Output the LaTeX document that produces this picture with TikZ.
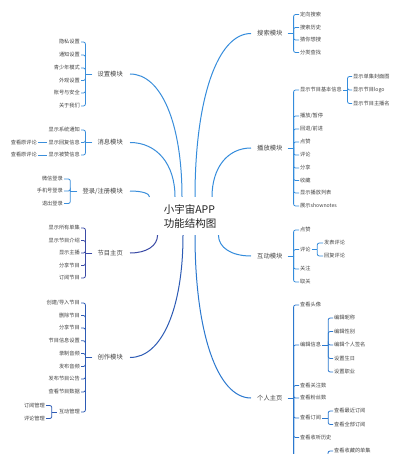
\documentclass[tikz,border=0pt]{standalone}
\usepackage{fontspec}
\setmainfont{Noto Sans CJK SC}
\usetikzlibrary{calc}
\definecolor{txt}{HTML}{444444}
\definecolor{ctr}{HTML}{222222}
\definecolor{cL}{HTML}{3A8EDB}
\definecolor{cR}{HTML}{348CDC}
\definecolor{cHome}{HTML}{2B78CF}
\definecolor{cProg}{HTML}{3B4BA6}
\definecolor{cMake}{HTML}{2D5BB5}
\newcommand\leaffont{\fontsize{5.2}{6}\selectfont}
\newcommand\modfont{\fontsize{6.3}{7.5}\selectfont}
\newcommand\cenfont{\fontsize{10.5}{14}\selectfont}
\newcommand\mcurve[3]{%
  \coordinate (tmpA) at ($(#2)!0.6!(#3)$);
  \coordinate (tmpB) at ($(#2)!0.4!(#3)$);
  \draw[link,#1] (#2) .. controls (#2 |- tmpA) and (tmpB |- #3) .. (#3);}
\tikzset{
  leafL/.style={anchor=east,inner sep=1pt,font=\leaffont,text=txt},
  leafR/.style={anchor=west,inner sep=1pt,font=\leaffont,text=txt},
  modL/.style={anchor=east,inner sep=3pt,font=\modfont,text=txt},
  modR/.style={anchor=west,inner sep=3pt,font=\modfont,text=txt},
  link/.style={line width=1pt},
  br/.style={line width=0.8pt,rounded corners=2pt},
}
\begin{document}
\begin{tikzpicture}[x=1pt,y=-1pt]
\useasboundingbox (0,0) rectangle (400,454);
\clip (0,0) rectangle (400,454);
\fill[white] (0,0) rectangle (400,454);

% center
\node[align=left,font=\cenfont,inner sep=7pt,text=ctr] (c) at (190,216) {小宇宙APP\\功能结构图};

% modules
\node[modL] (set) at (126,74) {设置模块};
\node[modL] (msg) at (126,142.5) {消息模块};
\node[modL] (login) at (126,191) {登录/注册模块};
\node[modL] (prog) at (126,253) {节目主页};
\node[modL] (make) at (126,357.5) {创作模块};
\node[modR] (search) at (254,33.5) {搜索模块};
\node[modR] (play) at (254,148) {播放模块};
\node[modR] (inter) at (254,256) {互动模块};
\node[modR] (home) at (254,398) {个人主页};

% curve ends
\coordinate (sSet) at ([xshift=-8pt]c.north);
\coordinate (sSearch) at ([xshift=5pt]c.north);
\coordinate (sMsg) at ([xshift=-15pt]c.north);
\coordinate (sPlay) at ([xshift=22pt]c.north);
\coordinate (sLogin) at ([xshift=-7pt]c.north west);
\coordinate (sProg) at ([xshift=1pt]c.south west);
\coordinate (sMake) at ([xshift=-7pt]c.south);
\coordinate (sHome) at ([xshift=5pt]c.south);
\coordinate (sInter) at ([xshift=-5pt]c.south east);
\coordinate (eSet) at ([xshift=4pt]set.east);
\coordinate (eMsg) at ([xshift=4pt]msg.east);
\coordinate (eLogin) at ([xshift=4pt]login.east);
\coordinate (eProg) at ([xshift=4pt]prog.east);
\coordinate (eMake) at ([xshift=4pt]make.east);
\coordinate (eSearch) at ([xshift=-3pt]search.west);
\coordinate (ePlay) at ([xshift=-3pt]play.west);
\coordinate (eInter) at ([xshift=-3pt]inter.west);
\coordinate (eHome) at ([xshift=-3pt]home.west);
\mcurve{cL}{sSet}{eSet}
\mcurve{cL}{sMsg}{eMsg}
\mcurve{cL}{sLogin}{eLogin}
\mcurve{cProg}{sProg}{eProg}
\mcurve{cMake}{sMake}{eMake}
\mcurve{cR}{sSearch}{eSearch}
\mcurve{cR}{sPlay}{ePlay}
\mcurve{cR}{sInter}{eInter}
\mcurve{cHome}{sHome}{eHome}

% ---------- settings
\node[leafL] (l1) at (81,42) {隐私设置};
\node[leafL] (l2) at (81,55) {通知设置};
\node[leafL] (l3) at (81,68) {青少年模式};
\node[leafL] (l4) at (81,80.5) {外观设置};
\node[leafL] (l5) at (81,93) {账号与安全};
\node[leafL] (l6) at (81,106) {关于我们};
\coordinate (bSet) at ([xshift=-9pt]set.west);
\draw[br,cL] ([xshift=-2pt]set.west) -- (bSet);
\foreach \n in {l1,l2,l3,l4,l5,l6} \draw[br,cL] (bSet) |- (\n.east);

% ---------- messages
\node[leafL] (m1) at (81,130) {显示系统通知};
\node[leafL] (m2) at (81,142.5) {显示回复信息};
\node[leafL] (m3) at (81,155) {显示被赞信息};
\node[leafL] (m2x) at (38,142.5) {查看原评论};
\node[leafL] (m3x) at (38,155) {查看原评论};
\coordinate (bMsg) at ([xshift=-9pt]msg.west);
\draw[br,cL] ([xshift=-2pt]msg.west) -- (bMsg);
\foreach \n in {m1,m2,m3} \draw[br,cL] (bMsg) |- (\n.east);
\draw[br,cL] (m2x.east) -- (m2.west);
\draw[br,cL] (m3x.east) -- (m3.west);

% ---------- login
\node[leafL] (g1) at (64,179) {微信登录};
\node[leafL] (g2) at (64,191) {手机号登录};
\node[leafL] (g3) at (64,203.5) {退出登录};
\coordinate (bLogin) at ([xshift=-9pt]login.west);
\draw[br,cL] ([xshift=-2pt]login.west) -- (bLogin);
\foreach \n in {g1,g2,g3} \draw[br,cL] (bLogin) |- (\n.east);

% ---------- program home
\node[leafL] (p1) at (81,228) {显示所有单集};
\node[leafL] (p2) at (81,240.5) {显示节目介绍};
\node[leafL] (p3) at (81,253) {显示主播};
\node[leafL] (p4) at (81,265.5) {分享节目};
\node[leafL] (p5) at (81,278) {订阅节目};
\coordinate (bProg) at ([xshift=-9pt]prog.west);
\draw[br,cProg] ([xshift=-2pt]prog.west) -- (bProg);
\foreach \n in {p1,p2,p3,p4,p5} \draw[br,cProg] (bProg) |- (\n.east);

% ---------- creation
\node[leafL] (k1) at (81,303) {创建/导入节目};
\node[leafL] (k2) at (81,315.5) {删除节目};
\node[leafL] (k3) at (81,328) {分享节目};
\node[leafL] (k4) at (81,340.8) {节目信息设置};
\node[leafL] (k5) at (81,353.5) {录制音频};
\node[leafL] (k6) at (81,366.5) {发布音频};
\node[leafL] (k7) at (81,379) {发布节目公告};
\node[leafL] (k8) at (81,392) {查看节目数据};
\node[leafL] (k9) at (81,412) {互动管理};
\node[leafL] (k9a) at (46,405.5) {订阅管理};
\node[leafL] (k9b) at (46,418.5) {评论管理};
\coordinate (bMake) at ([xshift=-9pt]make.west);
\draw[br,cMake] ([xshift=-2pt]make.west) -- (bMake);
\foreach \n in {k1,k2,k3,k4,k5,k6,k7,k8,k9} \draw[br,cMake] (bMake) |- (\n.east);
\coordinate (bK9) at ([xshift=-6pt]k9.west);
\draw[br,cMake] ([xshift=-1pt]k9.west) -- (bK9);
\foreach \n in {k9a,k9b} \draw[br,cMake] (bK9) |- (\n.east);

% ---------- search
\node[leafR] (s1) at (299,14.5) {定向搜索};
\node[leafR] (s2) at (299,27.5) {搜索历史};
\node[leafR] (s3) at (299,40) {猜你想搜};
\node[leafR] (s4) at (299,52.5) {分类查找};
\coordinate (bSearch) at ([xshift=8pt]search.east);
\draw[br,cR] ([xshift=2pt]search.east) -- (bSearch);
\foreach \n in {s1,s2,s3,s4} \draw[br,cR] (bSearch) |- (\n.west);

% ---------- play
\node[leafR] (y1) at (299,90) {显示节目基本信息};
\node[leafR] (y2) at (299,116) {播放/暂停};
\node[leafR] (y3) at (299,129) {回退/前进};
\node[leafR] (y4) at (299,142) {点赞};
\node[leafR] (y5) at (299,155) {评论};
\node[leafR] (y6) at (299,168) {分享};
\node[leafR] (y7) at (299,180.5) {收藏};
\node[leafR] (y8) at (299,193) {显示播放列表};
\node[leafR] (y9) at (299,206) {展示shownotes};
\node[leafR] (y1a) at (352,76.5) {显示单集封面图};
\node[leafR] (y1b) at (352,90) {显示节目logo};
\node[leafR] (y1c) at (352,103.5) {显示节目主播名};
\coordinate (bPlay) at ([xshift=8pt]play.east);
\draw[br,cR] ([xshift=2pt]play.east) -- (bPlay);
\foreach \n in {y1,y2,y3,y4,y5,y6,y7,y8,y9} \draw[br,cR] (bPlay) |- (\n.west);
\coordinate (bY1) at ([xshift=4.5pt]y1.east);
\draw[br,cR] (y1.east) -- (bY1);
\foreach \n in {y1a,y1b,y1c} \draw[br,cR] (bY1) |- (\n.west);

% ---------- interaction
\node[leafR] (i1) at (299,230) {点赞};
\node[leafR] (i2) at (299,249.5) {评论};
\node[leafR] (i3) at (299,269) {关注};
\node[leafR] (i4) at (299,282) {取关};
\node[leafR] (i2a) at (323,243) {发表评论};
\node[leafR] (i2b) at (323,256) {回复评论};
\coordinate (bInter) at ([xshift=8pt]inter.east);
\draw[br,cR] ([xshift=2pt]inter.east) -- (bInter);
\foreach \n in {i1,i2,i3,i4} \draw[br,cR] (bInter) |- (\n.west);
\coordinate (bI2) at ([xshift=5.5pt]i2.east);
\draw[br,cR] (i2.east) -- (bI2);
\foreach \n in {i2a,i2b} \draw[br,cR] (bI2) |- (\n.west);

% ---------- personal home
\node[leafR] (h1) at (299,305) {查看头像};
\node[leafR] (h2) at (299,345) {编辑信息};
\node[leafR] (h3) at (299,385.5) {查看关注数};
\node[leafR] (h4) at (299,398) {查看粉丝数};
\node[leafR] (h5) at (299,418) {查看订阅};
\node[leafR] (h6) at (299,437.5) {查看收听历史};
\node[leafR] (h2a) at (333,318) {编辑昵称};
\node[leafR] (h2b) at (333,331.5) {编辑性别};
\node[leafR] (h2c) at (333,345) {编辑个人签名};
\node[leafR] (h2d) at (333,358.5) {设置生日};
\node[leafR] (h2e) at (333,372) {设置职业};
\node[leafR] (h5a) at (333,411) {查看最近订阅};
\node[leafR] (h5b) at (333,424.5) {查看全部订阅};
\node[leafR] (h7a) at (333,451) {查看收藏的单集};
\coordinate (h7) at (299,461);
\coordinate (hEnd) at (299,491);
\coordinate (h7r) at (322,461);
\coordinate (h7b) at (333,474);
\coordinate (bHome) at ([xshift=8pt]home.east);
\draw[br,cHome] ([xshift=2pt]home.east) -- (bHome);
\foreach \n in {h1,h2,h3,h4,h5,h6} \draw[br,cHome] (bHome) |- (\n.west);
\draw[br,cHome] (bHome) |- (h7);
\draw[br,cHome] (bHome) |- (hEnd);
\coordinate (bH2) at ([xshift=6pt]h2.east);
\draw[br,cHome] (h2.east) -- (bH2);
\foreach \n in {h2a,h2b,h2c,h2d,h2e} \draw[br,cHome] (bH2) |- (\n.west);
\coordinate (bH5) at ([xshift=6pt]h5.east);
\draw[br,cHome] (h5.east) -- (bH5);
\foreach \n in {h5a,h5b} \draw[br,cHome] (bH5) |- (\n.west);
\coordinate (bH7) at (328,461);
\draw[br,cHome] (h7r) -- (bH7);
\draw[br,cHome] (bH7) |- (h7a.west);
\draw[br,cHome] (bH7) |- (h7b);
\end{tikzpicture}
\end{document}
